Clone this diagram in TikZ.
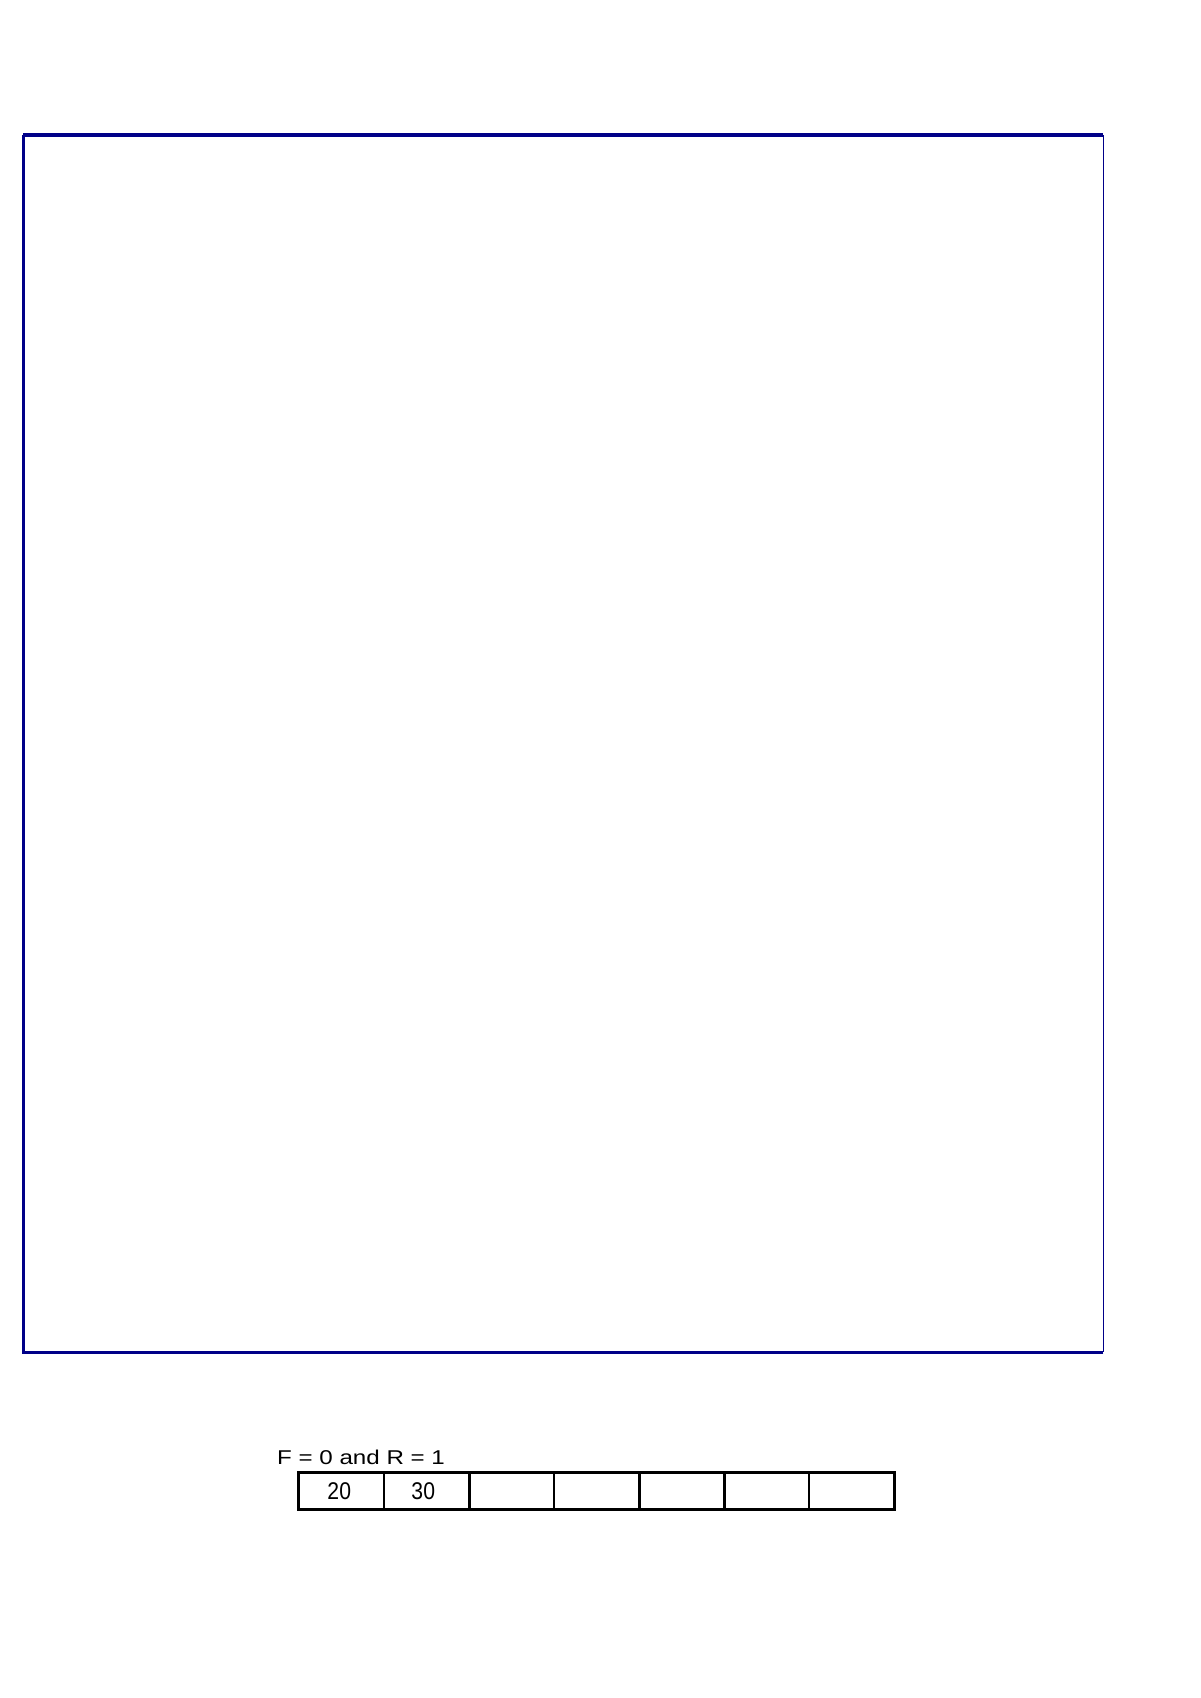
\documentclass[tikz,border=0pt]{standalone}
\usepackage{fontspec}
\setmainfont{Liberation Sans}
\definecolor{navy}{RGB}{0,0,136}
\begin{document}
\begin{tikzpicture}[x=1pt,y=-1pt,
  cellbox/.style={draw=black,line width=1.5pt,minimum width=85pt,minimum height=36pt,inner sep=0pt,anchor=north west,
    font=\fontsize{23}{26}\selectfont},
  frameline/.style={draw=navy}]
\useasboundingbox (0,0) rectangle (1200,1698);
% frame
\coordinate (tl) at (23.3,135);
\coordinate (tr) at (1103.3,135);
\coordinate (br) at (1103.3,1352.3);
\coordinate (bl) at (23.3,1352.3);
\draw[frameline,line width=1.5pt] (tr) -- (br);
\draw[frameline,line width=2.7pt] (br) -- (bl) -- (tl);
\draw[frameline,line width=4.6pt] (tl) -- (tr);
% caption
\node[anchor=base west,inner sep=0pt] (cap) at (277,1464) {\scalebox{1.27}[1.05]{\fontsize{19}{22}\selectfont F = 0 and R = 1}};
% array
\node[cellbox] (c1) at (298,1472) {\raisebox{-3pt}{\hspace*{-4pt}\scalebox{0.92}[1.05]{20}}};
\node[cellbox] (c2) at (383,1472) {\raisebox{-3pt}{\hspace*{-6pt}\scalebox{0.92}[1.05]{30}}};
\node[cellbox] (c3) at (468,1472) {};
\node[cellbox] (c4) at (553,1472) {};
\node[cellbox] (c5) at (638,1472) {};
\node[cellbox] (c6) at (723,1472) {};
\node[cellbox] (c7) at (808,1472) {};
\draw[line width=3pt] (c1.north west) rectangle (c7.south east);
\draw[line width=3pt] (c2.north east) -- (c2.south east);
\draw[line width=3pt] (c4.north east) -- (c4.south east);
\draw[line width=3pt] (c5.north east) -- (c5.south east);
\end{tikzpicture}
\end{document}
